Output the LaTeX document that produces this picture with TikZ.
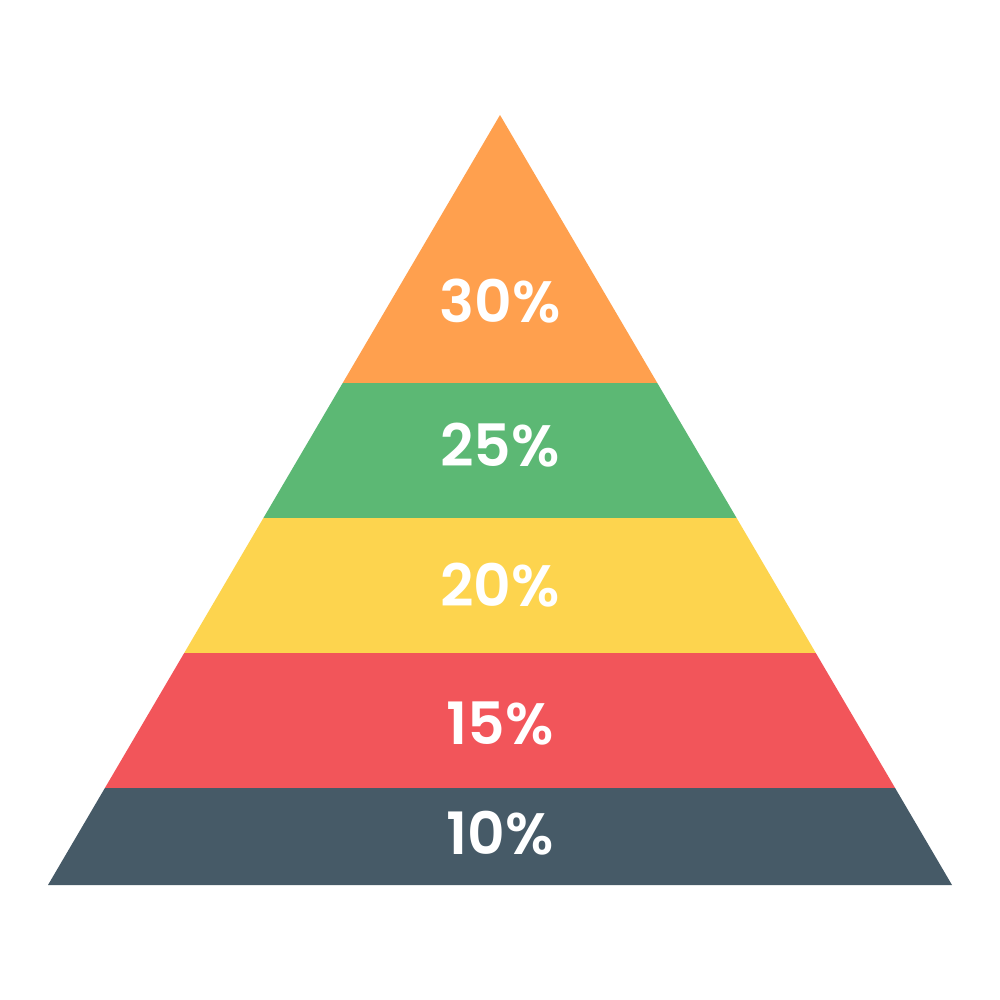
\documentclass[tikz,border=0pt]{standalone}
\usepackage{fontspec}
\setmainfont{Poppins SemiBold}
\definecolor{cOrange}{HTML}{FFA04E}
\definecolor{cGreen}{HTML}{5CB874}
\definecolor{cYellow}{HTML}{FDD44E}
\definecolor{cRed}{HTML}{F2555A}
\definecolor{cSlate}{HTML}{465A67}
\begin{document}
\begin{tikzpicture}[x=0.01cm,y=-0.01cm,
  lbl/.style={text=white,font=\fontsize{16.6}{17}\selectfont,inner sep=0pt,anchor=base}]
\useasboundingbox (0,0) rectangle (1000,1000);
\fill[white] (0,0) rectangle (1000,1000);
% bands
\fill[cOrange] (500,115) -- (657.3,383) -- (342.7,383) -- cycle;
\fill[cGreen] (342.7,383) -- (657.3,383) -- (736.6,518) -- (263.4,518) -- cycle;
\fill[cYellow] (263.4,518) -- (736.6,518) -- (815.8,653) -- (184.2,653) -- cycle;
\fill[cRed] (184.2,653) -- (815.8,653) -- (895.1,788) -- (104.9,788) -- cycle;
\fill[cSlate] (104.9,788) -- (895.1,788) -- (952,885) -- (48,885) -- cycle;
% labels
\node[lbl] (l30) at (500,322) {30\%};
\node[lbl] (l25) at (500,466) {25\%};
\node[lbl] (l20) at (500,606) {20\%};
\node[lbl] (l15) at (500,744) {15\%};
\node[lbl] (l10) at (500,854) {10\%};
\end{tikzpicture}
\end{document}
